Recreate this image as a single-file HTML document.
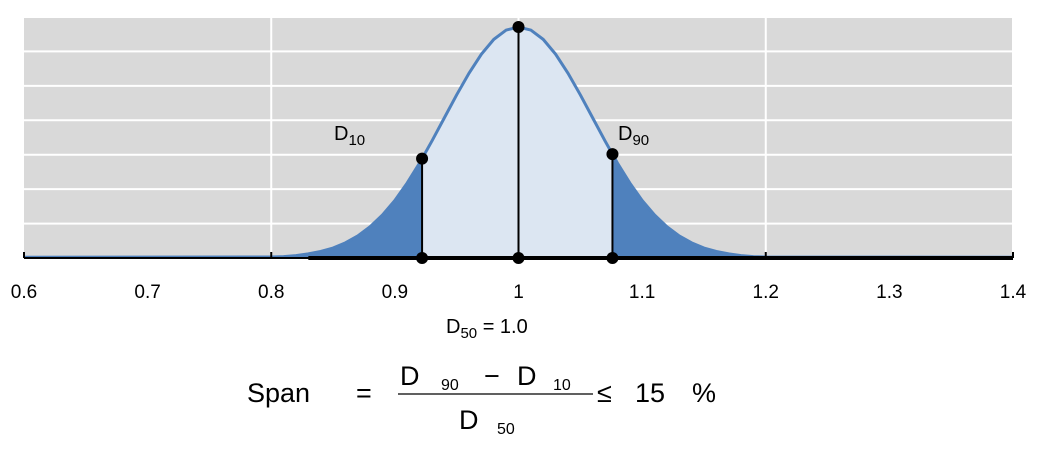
<!DOCTYPE html>
<html><head><meta charset="utf-8"><style>
body{margin:0;background:#fff;font-family:"Liberation Sans","DejaVu Sans",sans-serif;}
svg text{font-family:"Liberation Sans","DejaVu Sans",sans-serif;}
</style></head><body>
<svg id="chart" width="1056" height="452" xmlns="http://www.w3.org/2000/svg">
<rect x="24" y="17" width="989" height="241" fill="#d9d9d9"/>
<g id="grid"></g>
<g id="areas"></g>
<g id="marks"></g>
<g id="labels"></g>
<text x="334" y="140" font-size="20">D<tspan font-size="15" dy="5">10</tspan></text>
<text x="618" y="140" font-size="20">D<tspan font-size="15" dy="5">90</tspan></text>
<text x="446" y="333" font-size="20">D<tspan font-size="15" dy="5">50</tspan><tspan dy="-5"> = 1.0</tspan></text>
<g font-size="27">
<text x="247" y="402">Span</text>
<text x="356" y="402">=</text>
<text x="400" y="385">D</text><text x="441" y="390" font-size="16">90</text>
<text x="484" y="385">−</text>
<text x="517" y="385">D</text><text x="553" y="390" font-size="16">10</text>
<line x1="398" y1="394" x2="593" y2="394" stroke="#000" stroke-width="1.2"/>
<text x="459" y="429">D</text><text x="497" y="434" font-size="16">50</text>
<text x="597" y="402">≤</text>
<text x="635" y="402">15</text>
<text x="692" y="402">%</text>
</g>
</svg>
<script>
const xTicks=[0.6,0.7,0.8,0.9,1,1.1,1.2,1.3,1.4];
const xs=[0.8,0.81,0.82,0.83,0.84,0.85,0.86,0.87,0.88,0.89,0.9,0.91,0.92,0.93,0.94,0.95,0.96,0.97,0.98,0.99,1.0,1.01,1.02,1.03,1.04,1.05,1.06,1.07,1.08,1.09,1.1,1.11,1.12,1.13,1.14,1.15,1.16,1.17,1.18,1.19,1.2];
const ys=[0.03,0.04,0.07,0.12,0.19,0.29,0.44,0.64,0.91,1.25,1.67,2.18,2.76,3.40,4.07,4.74,5.37,5.92,6.35,6.62,6.71,6.62,6.35,5.92,5.37,4.74,4.07,3.40,2.76,2.18,1.67,1.25,0.91,0.64,0.44,0.29,0.19,0.12,0.07,0.04,0.03];
const markers=[0.922,1.0,1.076];
const NS="http://www.w3.org/2000/svg";
const X=v=>24+(v-0.6)/0.8*989;
const Y=v=>258-v*(241/7);
function yAt(x){for(let i=0;i<xs.length-1;i++){if(x>=xs[i]&&x<=xs[i+1]){const t=(x-xs[i])/(xs[i+1]-xs[i]);return ys[i]+t*(ys[i+1]-ys[i]);}}return 0;}
function mk(tag,a,p){const e=document.createElementNS(NS,tag);for(const k in a)e.setAttribute(k,a[k]);p.appendChild(e);return e;}
const grid=document.getElementById('grid'),areas=document.getElementById('areas'),marks=document.getElementById('marks'),labels=document.getElementById('labels');
for(let i=0;i<=6;i++){const l=mk('line',{x1:24,x2:1013,y1:Y(i+1),y2:Y(i+1),stroke:'#fff','stroke-width':2},grid);

}
[0.8,1.0,1.2,1.4].forEach(v=>{const l=mk('line',{x1:X(v),x2:X(v),y1:17,y2:258,stroke:'#fff','stroke-width':2},grid);

});
function areaPath(a,b){let d='M'+X(a)+' '+Y(0)+' L'+X(a)+' '+Y(yAt(a));xs.forEach((x,i)=>{if(x>a&&x<b)d+=' L'+X(x)+' '+Y(ys[i]);});d+=' L'+X(b)+' '+Y(yAt(b))+' L'+X(b)+' '+Y(0)+'Z';return d;}
const t1=mk('path',{d:areaPath(xs[0],markers[0]),fill:'#4f81bd'},areas);


const mid=mk('path',{d:areaPath(markers[0],markers[2]),fill:'#dce6f2'},areas);


const t2=mk('path',{d:areaPath(markers[2],xs[xs.length-1]),fill:'#4f81bd'},areas);


let cd='M'+X(0.6)+' '+Y(0.02);xs.forEach((x,i)=>cd+=' L'+X(x)+' '+Y(ys[i]));cd+=' L'+X(1.4)+' '+Y(0.02);
const curve=mk('path',{d:cd,fill:'none',stroke:'#4f81bd','stroke-width':3},marks);


const ax=mk('line',{x1:24,x2:1013,y1:258,y2:258,stroke:'#000','stroke-width':2},marks);


const ax2=mk('line',{x1:X(0.83),x2:1013,y1:258,y2:258,stroke:'#000','stroke-width':4},marks);


xTicks.forEach((v,i)=>{if(i%2===0){const tk=mk('line',{x1:X(v),x2:X(v),y1:252,y2:258,stroke:'#000','stroke-width':2},marks);

}
const t=mk('text',{x:X(v),y:298,'font-size':19,'text-anchor':'middle'},labels);t.textContent=String(v);

});
markers.forEach(v=>{const h=yAt(v);
const l=mk('line',{x1:X(v),x2:X(v),y1:Y(0),y2:Y(h),stroke:'#000','stroke-width':2},marks);


const c1=mk('circle',{cx:X(v),cy:Y(h),r:6,fill:'#000'},marks);


const c2=mk('circle',{cx:X(v),cy:Y(0),r:6,fill:'#000'},marks);

});
</script>
</body></html>
